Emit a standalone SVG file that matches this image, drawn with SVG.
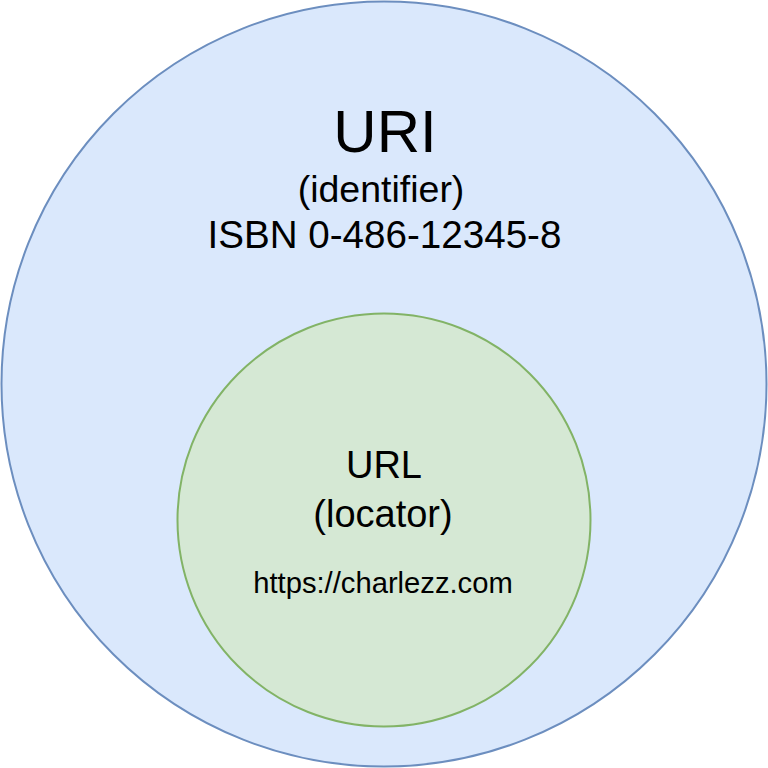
<svg xmlns="http://www.w3.org/2000/svg" width="768" height="768" viewBox="0 0 768 768">
<style>
.t{font-family:"Liberation Sans",Arial,Helvetica,sans-serif;fill:#000;text-anchor:middle}
</style>
<rect width="768" height="768" fill="#ffffff"/>
<g id="uri">
<circle cx="384" cy="384" r="382.5" fill="#dae8fc" stroke="#6c8ebf" stroke-width="2"/>
<text class="t" x="385" y="152" font-size="60">URI</text>
<text class="t" x="381" y="202" font-size="37.5">(identifier)</text>
<text class="t" x="384.5" y="248" font-size="38.6">ISBN 0-486-12345-8</text>
</g>
<g id="url">
<circle cx="384" cy="520" r="206.5" fill="#d5e8d4" stroke="#82b366" stroke-width="2"/>
<text class="t" x="384" y="478" font-size="38">URL</text>
<text class="t" x="383" y="527" font-size="38">(locator)</text>
<text class="t" x="383" y="593" font-size="29.2">https://charlezz.com</text>
</g>
<g id="connectors"/>
</svg>
